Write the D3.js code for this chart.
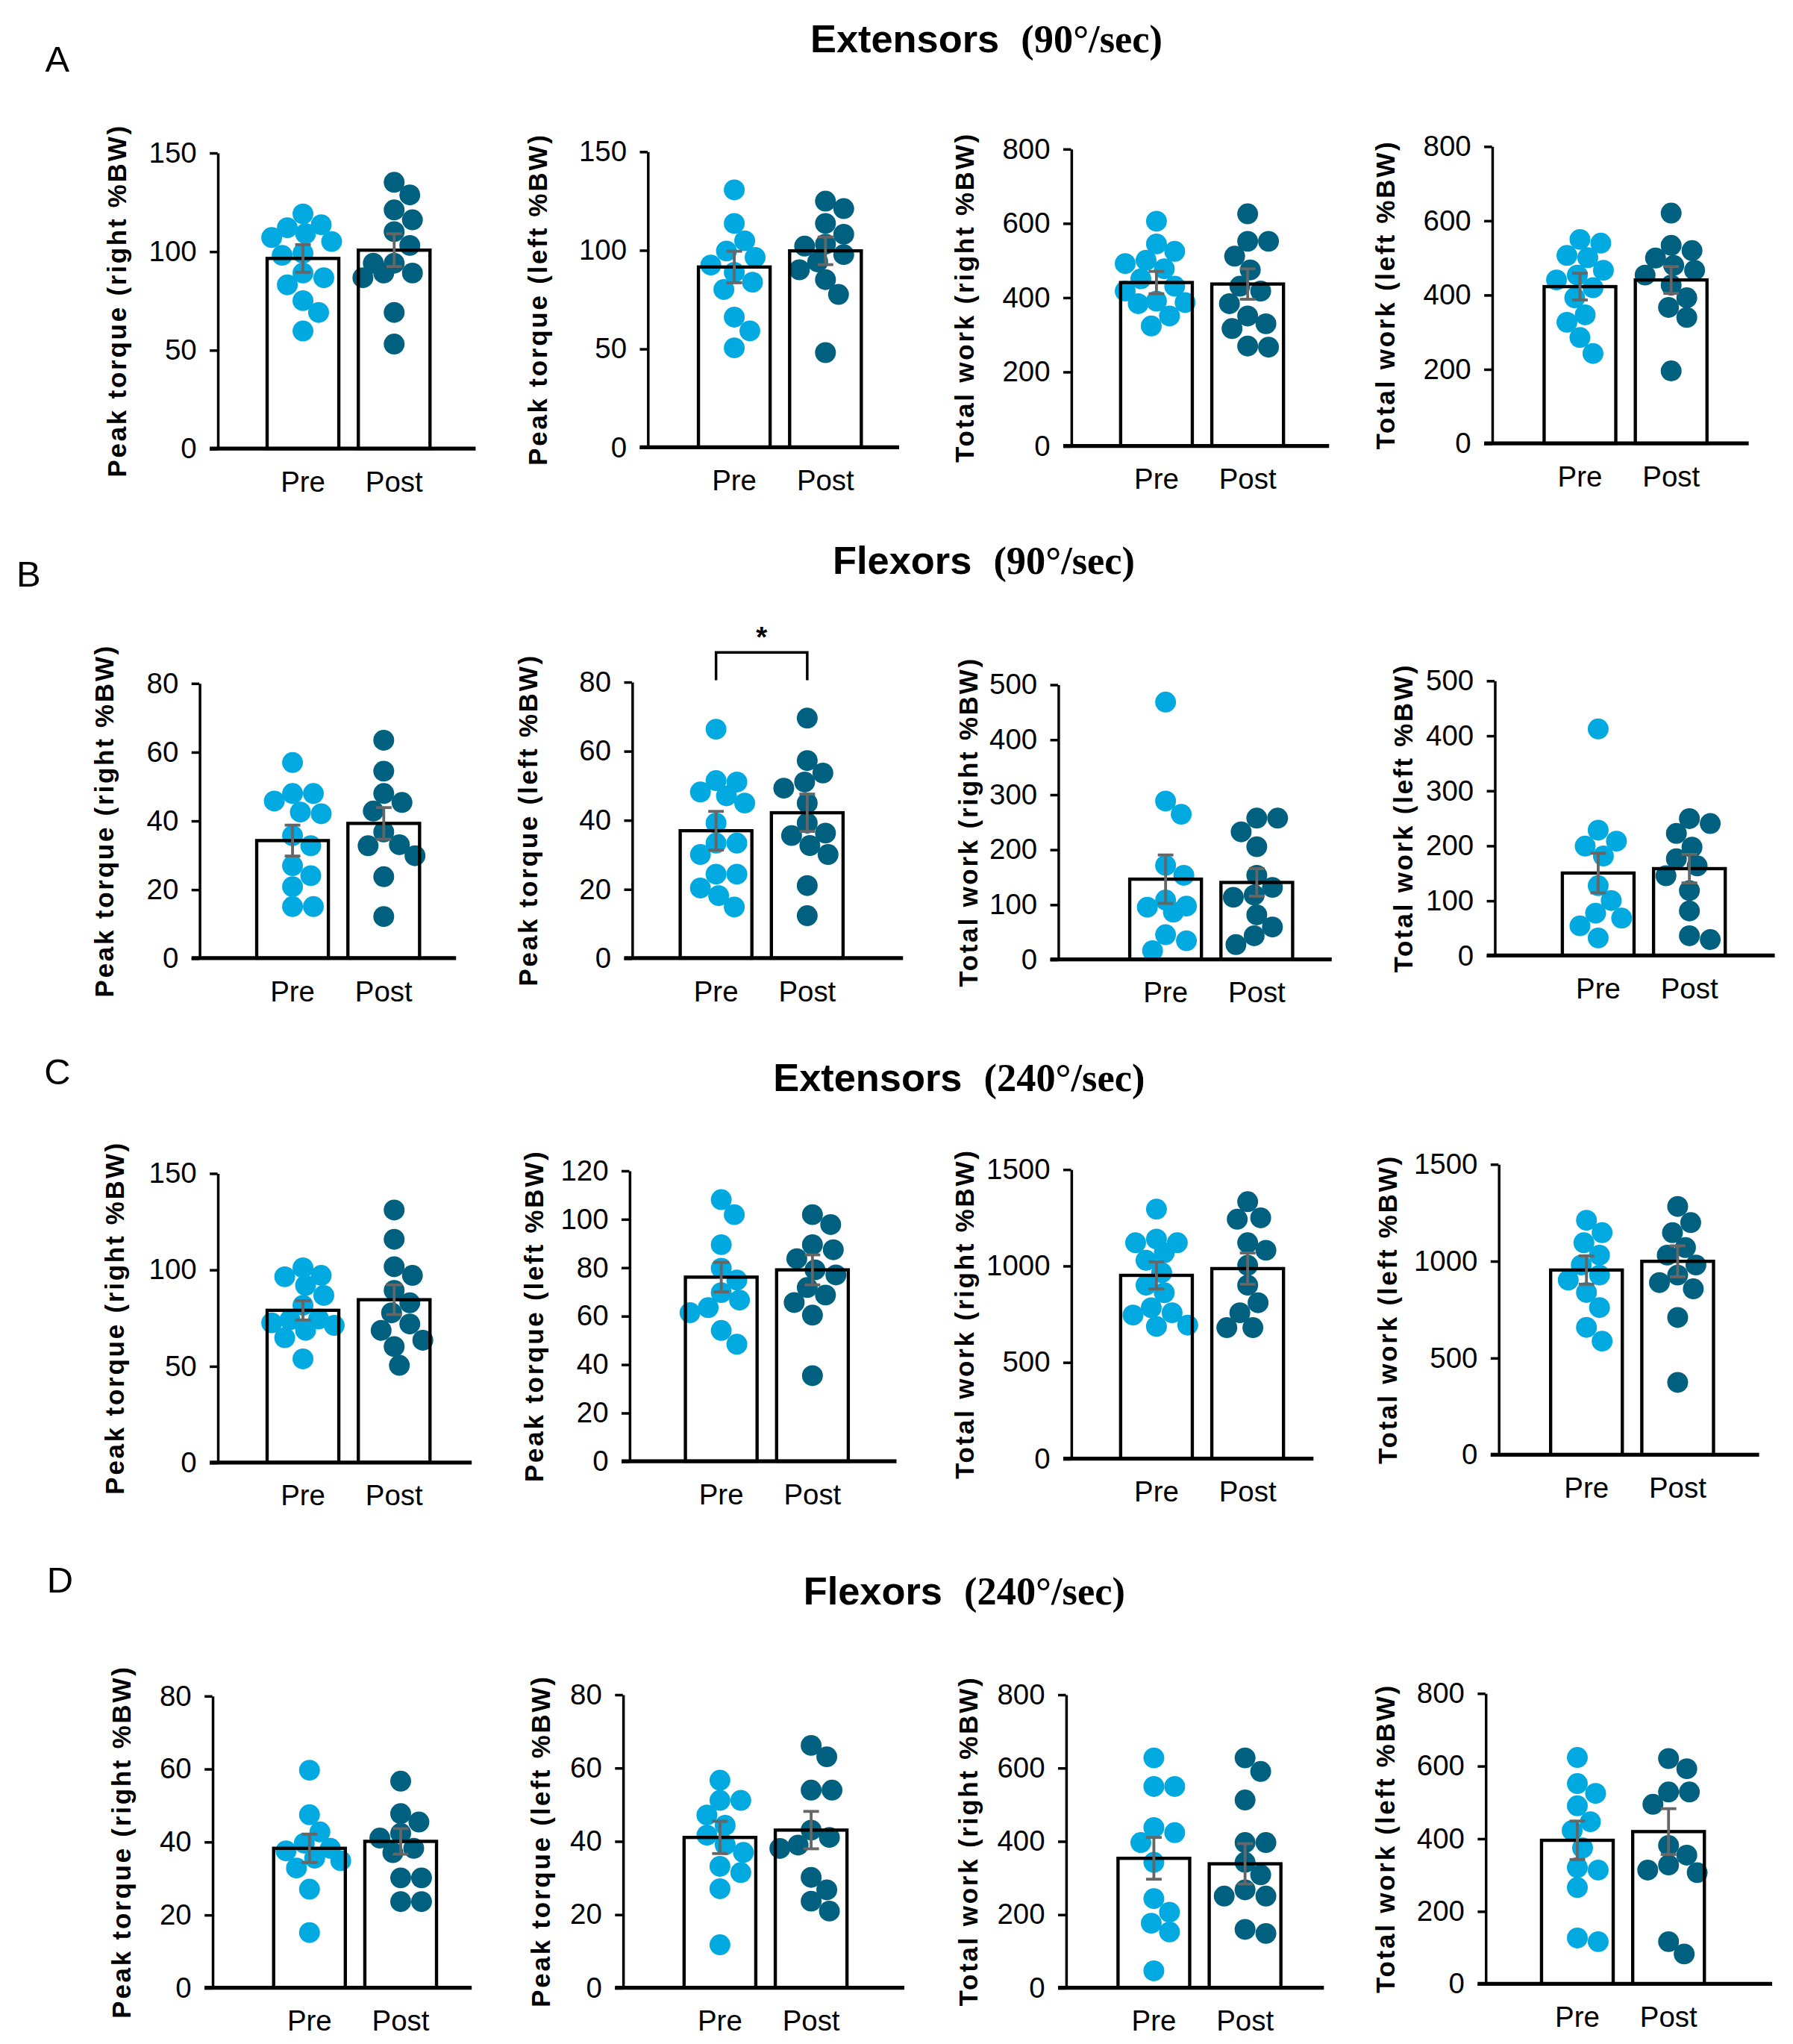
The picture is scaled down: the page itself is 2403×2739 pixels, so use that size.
<!DOCTYPE html>
<html>
<head>
<meta charset="utf-8">
<script src="https://cdnjs.cloudflare.com/ajax/libs/d3/7.8.5/d3.min.js"></script>
<style>
body { margin: 0; background: #fff; }
svg { display: block; background: #fff; }
.tick text, .xlab, .letter {
  font-family: "Liberation Sans", Arial, sans-serif;
  fill: #000;
}
.tick text { font-size: 22px; }
.tick line, .yaxis path { stroke: #000; stroke-width: 2; }
.xlab { font-size: 22px; }
.letter { font-size: 28px; }
.title { font-weight: bold; font-size: 30px; }
.title .sans { font-family: "Liberation Sans", Arial, sans-serif; }
.title .serif { font-family: "Liberation Serif", "Times New Roman", serif; }
.star { font-family: "Liberation Sans", Arial, sans-serif; font-size: 22px; font-weight: bold; }
.ytitle {
  font-family: "Liberation Sans", Arial, sans-serif;
  font-weight: bold; font-size: 20px; letter-spacing: 1.6px;
}
</style>
</head>
<body>
<svg id="fig" width="2403" height="2739" viewBox="0 0 1376 1568"></svg>
<script>
// ---- data ----
var groups = ["Pre", "Post"];
var sectionNames = ["Extensors", "Flexors", "Extensors", "Flexors"];
var sectionSpeeds = ["(90°/sec)", "(90°/sec)", "(240°/sec)", "(240°/sec)"];
var sectionLetters = ["A", "B", "C", "D"];
var yTitles = ["Peak torque (right %BW)", "Peak torque (left %BW)", "Total work (right %BW)", "Total work (left %BW)"];

var yMax  = [[150, 150, 800, 800], [80, 80, 500, 500], [150, 120, 1500, 1500], [80, 80, 800, 800]];
var yStep = [[50, 50, 200, 200], [20, 20, 100, 100], [50, 20, 500, 500], [20, 20, 200, 200]];

// bar heights (mean) and error bar half-length (SEM), [Pre, Post]
var means = [
  [[96.4, 100.6], [91.4, 99.6], [440, 436], [422, 440]],
  [[34.2, 39.2], [36.9, 42.1], [146, 140], [150, 158]],
  [[78.9, 84.4], [76, 79], [950, 985], [953, 998]],
  [[38.2, 40.1], [41, 43], [353, 338], [395, 419]]
];
var sems = [
  [[7, 8.3], [8, 7], [30, 41], [36, 36]],
  [[4.5, 4.6], [5.6, 5.4], [44, 25], [36, 26]],
  [[5, 7.7], [6.1, 6.2], [70, 81], [73, 80]],
  [[3.9, 3.5], [4.4, 5.1], [57, 55], [53, 63]]
];

// individual subjects
var ext90Pre = [
  [119, 113.5, 112, 109, 107, 105, 99, 98, 89, 86.6, 83, 75, 69, 59.6],
  [130.5, 113.5, 104.7, 99.5, 96.3, 92.4, 88.7, 83.7, 80, 66, 59, 50.4],
  [605, 544, 524, 500, 491, 477, 450, 430, 417, 390, 386, 383, 350, 323],
  [549, 539, 506, 500, 466, 453, 440, 419, 392, 346, 326, 285, 242]
];
var ext90Post = [
  [135, 128.6, 121, 116, 110, 103, 94, 94, 89, 89, 86.6, 69, 53],
  [124.8, 121, 113.5, 108, 103, 102, 97.7, 94, 90, 85, 77.5, 48],
  [625, 551, 551, 511, 474, 430, 417, 383, 350, 329, 316, 269, 266],
  [620, 533, 519, 499, 479, 466, 453, 426, 392, 366, 339, 195]
];
var flex90Pre = [
  [56.9, 47.9, 47.9, 45.7, 42.5, 42, 35.6, 32.7, 26.9, 24, 20.8, 15, 15],
  [66.3, 51.4, 51, 48.1, 47, 44.9, 39.1, 33.3, 33.3, 30, 24.3, 24.3, 20.3, 18.1, 14.8],
  [468, 288, 264, 171, 153, 108, 97, 95, 86, 45, 34, 16],
  [412, 228, 208, 199, 181, 127, 100, 77, 68, 54, 32]
];
var flex90Post = [
  [63.4, 54.4, 47.9, 45.3, 42.8, 36.7, 33, 32.7, 29.8, 23.7, 12.1],
  [69.5, 57.2, 53.6, 51, 49.2, 44.9, 39.1, 36.2, 35.5, 32.6, 30, 21, 12.3],
  [257, 257, 232, 205, 153, 131, 117, 113, 81, 59, 43, 27],
  [249, 240, 222, 197, 176, 163, 145, 118, 81, 36, 29]
];
var ext240Pre = [
  [100.9, 97, 96.3, 91.8, 86.6, 81.5, 74.4, 74, 72.4, 71.1, 68.5, 64.7, 53.7],
  [108, 101.8, 89.4, 79.7, 74.8, 69.6, 66.5, 63.4, 61.3, 54, 48.3],
  [1293, 1138, 1119, 1119, 1067, 1028, 964, 899, 860, 782, 756, 744, 692, 685],
  [1210, 1146, 1094, 1030, 979, 927, 901, 837, 759, 657, 586]
];
var ext240Post = [
  [130.9, 115.7, 101.5, 97, 89.2, 82.8, 77.6, 71.8, 68.5, 63.4, 60.1, 50.4],
  [101.8, 97.7, 89.4, 87.3, 83.6, 79, 76.9, 71.7, 68.6, 65.5, 60.3, 35.3],
  [1332, 1241, 1248, 1119, 1080, 1002, 899, 808, 756, 679, 679],
  [1281, 1198, 1146, 1069, 1030, 979, 927, 888, 856, 708, 373]
];
var flex240Pre = [
  [59.6, 47.4, 42.7, 39.6, 38.2, 37.5, 35.5, 34.8, 32.8, 27, 15.1],
  [56.6, 51.1, 51.1, 47.1, 44.3, 41.6, 39, 36.9, 33.1, 31.4, 27, 11.7],
  [627, 549, 549, 437, 423, 396, 342, 243, 206, 176, 152, 46],
  [623, 551, 524, 490, 446, 422, 374, 320, 313, 265, 126, 116]
];
var flex240Post = [
  [56.6, 47.7, 45.4, 42.3, 41, 38.2, 37, 30.1, 30.1, 23.6, 23.6],
  [66.1, 63, 53.9, 53.9, 43, 41, 38.9, 38, 30.1, 26.7, 23.6, 20.9],
  [627, 590, 512, 396, 396, 342, 308, 267, 250, 250, 159, 148],
  [620, 592, 528, 528, 494, 381, 354, 327, 313, 306, 116, 82]
];
var prePoints  = [ext90Pre, flex90Pre, ext240Pre, flex240Pre];
var postPoints = [ext90Post, flex90Post, ext240Post, flex240Post];

// significance bracket: section, panel, bracket from/to value, label
var sigRow = 1, sigCol = 1, sigLow = 80.5, sigHigh = 88.5, sigText = "*";

// ---- layout (viewBox units) ----
var axisX  = [[167, 497, 822, 1145], [153, 485, 812, 1147], [167, 483, 822, 1150], [163, 478, 818, 1140]];
var topY   = [[117, 116, 114, 112], [524, 523, 525, 522], [900, 898, 897, 893], [1301, 1300, 1300, 1299]];
var zeroY  = [[344, 343, 342, 340], [735, 735, 736, 733], [1122, 1121, 1119, 1116], [1525, 1525, 1525, 1522]];
var axisEnd = [[365, 690, 1020, 1342], [350, 693, 1022, 1362], [362, 688, 1008, 1350], [362, 694, 1016, 1360]];
var barOff = [[38, 39, 38, 40], [44, 37, 55, 52], [38, 43, 38, 40], [47, 47, 40, 43]];
var labDx  = [[-77, -84, -82, -82], [-73, -80, -69, -70], [-79, -73, -82, -85], [-70, -63, -75, -77]];
var titlePos = [[757, 40], [755, 440], [736, 837], [740, 1231]];
var letterPos = [[44, 55], [22, 450], [44, 832], [46, 1222]];

var colors = {Pre: "#00A9E0", Post: "#00607F"};
var dotR = 8;

var svg = d3.select("#fig");

// simple beeswarm so overlapping subjects spread sideways
function swarm(vals, y, r, maxOff) {
  var minD = 1.85 * r, placed = [];
  var order = vals.map(function(v, i) { return i; }).sort(function(a, b) { return vals[b] - vals[a]; });
  var out = new Array(vals.length);
  var cands = [0];
  for (var k = 2; k <= maxOff; k += 2) { cands.push(k, -k); }
  order.forEach(function(i) {
    var cy = y(vals[i]), best = 0, bestD = -1;
    for (var c = 0; c < cands.length; c++) {
      var dmin = Infinity;
      placed.forEach(function(p) {
        var d = Math.hypot(p[0] - cands[c], p[1] - cy);
        if (d < dmin) dmin = d;
      });
      if (dmin >= minD) { best = cands[c]; break; }
      if (dmin > bestD) { bestD = dmin; best = cands[c]; }
    }
    placed.push([best, cy]);
    out[i] = {v: vals[i], dx: best};
  });
  return out;
}

sectionNames.forEach(function(name, r) {
  var t = svg.append("text").attr("class", "title")
    .attr("x", titlePos[r][0]).attr("y", titlePos[r][1])
    .attr("text-anchor", "middle");
  t.append("tspan").attr("class", "sans").text(name + "\u00a0 ");
  t.append("tspan").attr("class", "serif").text(sectionSpeeds[r]);

  svg.append("text").attr("class", "letter")
    .attr("x", letterPos[r][0]).attr("y", letterPos[r][1])
    .attr("text-anchor", "middle").text(sectionLetters[r]);

  for (var c = 0; c < 4; c++) {
    var ax = axisX[r][c];
    var y = d3.scaleLinear().domain([0, yMax[r][c]]).range([zeroY[r][c], topY[r][c]]);
    var x = d3.scaleBand().domain(groups)
      .range([ax + barOff[r][c], ax + barOff[r][c] + 125])
      .paddingInner(0.214).paddingOuter(0);
    var g = svg.append("g");

    // bar fills
    g.selectAll(".barfill").data(groups).enter().append("rect")
      .attr("x", function(d) { return x(d); })
      .attr("width", x.bandwidth())
      .attr("y", function(d, i) { return y(means[r][c][i]); })
      .attr("height", function(d, i) { return y(0) - y(means[r][c][i]); })
      .attr("fill", "#fff");

    // subjects
    var sets = [prePoints[r][c], postPoints[r][c]];
    groups.forEach(function(gname, gi) {
      var pts = swarm(sets[gi], y, dotR, 24);
      g.selectAll(".dot" + gi).data(pts).enter().append("circle")
        .attr("cx", function(d) { return x(gname) + x.bandwidth() / 2 + d.dx; })
        .attr("cy", function(d) { return y(d.v); })
        .attr("r", dotR)
        .attr("fill", colors[gname]);
    });

    // bar outlines
    g.selectAll(".barline").data(groups).enter().append("rect")
      .attr("x", function(d) { return x(d); })
      .attr("width", x.bandwidth())
      .attr("y", function(d, i) { return y(means[r][c][i]); })
      .attr("height", function(d, i) { return y(0) - y(means[r][c][i]); })
      .attr("fill", "none").attr("stroke", "#000").attr("stroke-width", 2.5);

    // error bars
    groups.forEach(function(gname, gi) {
      var cx = x(gname) + x.bandwidth() / 2;
      var m = means[r][c][gi], s = sems[r][c][gi];
      var eg = g.append("g").attr("stroke", "#666").attr("stroke-width", 2.2);
      eg.append("line").attr("x1", cx).attr("x2", cx).attr("y1", y(m - s)).attr("y2", y(m + s));
      [m - s, m + s].forEach(function(v) {
        eg.append("line").attr("x1", cx - 6).attr("x2", cx + 6).attr("y1", y(v)).attr("y2", y(v));
      });
    });

    // axes
    var ticks = d3.range(0, yMax[r][c] + 0.001, yStep[r][c]);
    g.append("g").attr("class", "yaxis")
      .attr("transform", "translate(" + ax + ",0)")
      .call(d3.axisLeft(y).tickValues(ticks).tickFormat(d3.format("d"))
        .tickSize(6).tickSizeOuter(0).tickPadding(10));
    g.append("line")
      .attr("x1", ax - 6).attr("x2", axisEnd[r][c])
      .attr("y1", y(0)).attr("y2", y(0))
      .attr("stroke", "#000").attr("stroke-width", 3);

    g.selectAll(".xlab").data(groups).enter().append("text")
      .attr("class", "xlab")
      .attr("x", function(d) { return x(d) + x.bandwidth() / 2; })
      .attr("y", y(0) + 33)
      .attr("text-anchor", "middle")
      .text(function(d) { return d; });

    g.append("text").attr("class", "ytitle")
      .attr("transform", "translate(" + (ax + labDx[r][c]) + "," + ((y(0) + y(yMax[r][c])) / 2) + ") rotate(-90)")
      .attr("text-anchor", "middle").attr("dy", "0.35em")
      .text(yTitles[c]);

    if (r === sigRow && c === sigCol) {
      var xa = x("Pre") + x.bandwidth() / 2, xb = x("Post") + x.bandwidth() / 2;
      g.append("path")
        .attr("d", "M" + xa + "," + y(sigLow) + "V" + y(sigHigh) + "H" + xb + "V" + y(sigLow))
        .attr("fill", "none").attr("stroke", "#000").attr("stroke-width", 2);
      g.append("text").attr("class", "star")
        .attr("x", (xa + xb) / 2).attr("y", y(sigHigh) - 4)
        .attr("text-anchor", "middle")
        .text(sigText);
    }
  }
});
</script>
</body>
</html>
